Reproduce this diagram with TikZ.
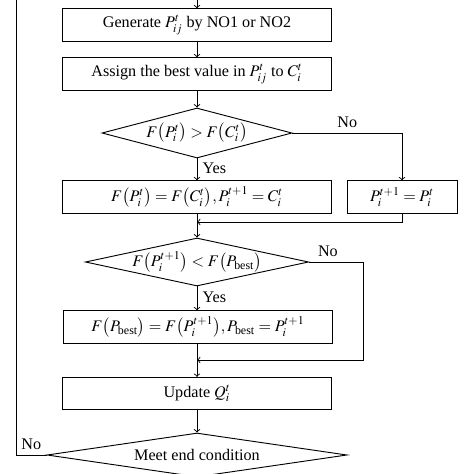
\documentclass[tikz,border=0pt]{standalone}
\usepackage{amsmath}
\usepackage{mathptmx}
\usepackage[no-math]{fontspec}
\setmainfont{Liberation Serif}
\usetikzlibrary{shapes.geometric}
\def\drawflow{\draw[->]}

\begin{document}
\begin{tikzpicture}[x=0.65pt,y=-0.65pt,line width=0.6pt,
  font=\fontsize{10.5}{12}\selectfont,
  stepbox/.style={draw,rectangle,inner sep=0pt,minimum width=174.9pt,minimum height=21pt},
  smallbox/.style={stepbox,minimum width=71.5pt},
  decision/.style={draw,diamond,inner sep=0pt}]
\useasboundingbox (0,0) rectangle (474,474);
\clip (0,0) rectangle (474,474);
% steps
\node[stepbox] (gen) at (197,25) {Generate $P^t_{ij}$ by NO1 or NO2};
\node[stepbox] (assign) at (197,74) {Assign the best value in $P^t_{ij}$ to $C^t_i$};
\node[decision,minimum width=123.5pt,minimum height=32.5pt,aspect=3.8] (cmpc) at (197,133)
  {$F\bigl(P^t_i\bigr) > F\bigl(C^t_i\bigr)$};
\node[stepbox] (takec) at (197,197)
  {$F\bigl(P^t_i\bigr) = F\bigl(C^t_i\bigr), P^{t+1}_i = C^t_i$};
\node[smallbox] (keep) at (402,197) {$P^{t+1}_i = P^t_i$};
\node[decision,minimum width=145pt,minimum height=31.2pt,aspect=4.65] (cmpbest) at (197,262)
  {$F\bigl(P^{t+1}_i\bigr) < F\bigl(P_{\text{best}}\bigr)$};
\node[stepbox] (setbest) at (198,327)
  {$F\bigl(P_{\text{best}}\bigr) = F\bigl(P^{t+1}_i\bigr), P_{\text{best}} = P^{t+1}_i$};
\node[stepbox] (upd) at (197,393.5) {Update $Q^t_i$};
\node[decision,minimum width=195pt,minimum height=28.6pt,aspect=6.8] (stop) at (197,455)
  {Meet end condition};
% joins and loop ends
\coordinate (entry) at (197,-5);
\coordinate (loop) at (16,-5);
\coordinate (j1) at (197,222);
\coordinate (j2) at (197,360);
\coordinate (c2) at (363,262);
% connectors
\drawflow (entry) -- (gen);
\drawflow (gen) -- (assign);
\drawflow (assign) -- (cmpc);
\drawflow (cmpc.east) -| node[pos=0.25,above] {No} (keep.north);
\drawflow (cmpc.south) -- node[right,yshift=1pt] {Yes} (takec.north);
\drawflow (keep.south) |- (j1);
\drawflow (takec) -- (cmpbest);
\draw (cmpbest.east) -- node[pos=0.35,above] {No} (c2);
\drawflow (c2) |- (j2);
\drawflow (cmpbest.south) -- node[right,yshift=1pt] {Yes} (takec.north |- setbest.north);
\drawflow (setbest.south -| upd.north) -- (upd.north);
\drawflow (upd) -- (stop);
\draw (stop.west) -| node[pos=0.25,above] {No} (loop);
\end{tikzpicture}
\end{document}
